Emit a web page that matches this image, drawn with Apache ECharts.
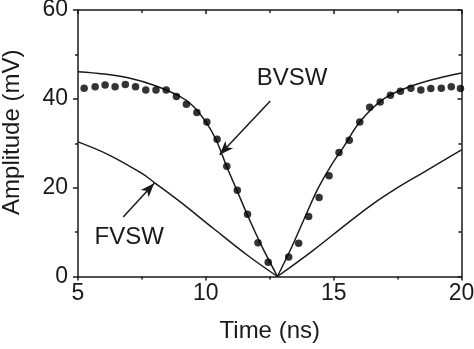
<!DOCTYPE html>
<html>
<head>
<meta charset="utf-8">
<script src="https://cdn.jsdelivr.net/npm/echarts@6/dist/echarts.min.js"></script>
<style>html,body{margin:0;padding:0;background:#fff;}#c{width:474px;height:349px;}</style>
</head>
<body>
<div id="c"></div>
<script>
// Measured dots (Time ns, Amplitude mV)
var dotTime = [5.24,5.67,6.06,6.45,6.85,7.25,7.65,8.05,8.45,8.85,9.24,9.65,10.04,10.44,10.82,11.23,11.63,12.04,12.44,13.24,13.63,14.02,14.43,14.82,15.21,15.61,16.02,16.41,16.82,17.22,17.61,18.02,18.41,18.80,19.21,19.60,19.96];
var dotAmp  = [42.4,42.7,43.1,42.7,43.2,42.7,42.0,42.0,42.0,40.5,38.8,36.9,34.8,30.9,24.8,19.4,14.0,7.6,3.2,4.4,7.5,13.5,17.8,22.7,27.9,30.7,34.8,38.1,39.3,40.8,41.7,42.4,42.0,42.3,42.4,42.7,42.3];

// BVSW curve (two branches meeting at the minimum)
var bvswLeftTime  = [5,6,7,8,9,9.5,10,10.4,10.8,11.2,11.7,12.25,12.8];
var bvswLeftAmp   = [46.1,45.6,44.7,43.0,40.5,38.4,34.8,30.8,25.0,19.6,12.9,6.1,0];
var bvswRightTime = [12.8,13.3,13.82,14.35,14.87,15.39,16.05,16.96,18.0,19.05,20];
var bvswRightAmp  = [0,5.9,12.6,19.4,24.7,29.2,35.0,40.0,42.8,44.6,45.8];

// FVSW curve
var fvswLeftTime  = [5,6.2,7.5,8.0,9.0,10.3,11.6,12.8];
var fvswLeftAmp   = [30.3,27.4,23.2,21.1,16.8,10.8,4.9,0];
var fvswRightTime = [12.8,14.2,15.5,16.5,17.5,18.5,20];
var fvswRightAmp  = [0,5.9,11.8,16.2,20.0,23.4,28.5];

var xTicks = [5,10,15,20];
var yTicks = [0,20,40,60];

function pairs(a,b){ return a.map(function(v,i){ return [v,b[i]]; }); }

var FONT = "'Liberation Sans', Arial, Helvetica, sans-serif";
var INK = '#1a1a1a';

var chart = echarts.init(document.getElementById('c'), null, {renderer:'canvas'});

function axisBase(extra){
  var o = {
    type:'value',
    axisLine:{show:true, onZero:false, lineStyle:{color:INK, width:1.5}},
    splitLine:{show:false},
    minorSplitLine:{show:false}
  };
  for (var k in extra) o[k] = extra[k];
  return o;
}

var lineStyleBase = {color:INK, width:1.5};
function curve(name, data){
  return {
    type:'line', name:name, data:data, smooth:0.35, showSymbol:false, symbol:'none',
    lineStyle:lineStyleBase, itemStyle:{color:INK}, z:3, silent:true
  };
}

var fvswL = curve('FVSW', pairs(fvswLeftTime, fvswLeftAmp));
fvswL.markLine = {
  silent:true, symbol:['none','arrow'], symbolSize:[8,14], animation:false,
  lineStyle:{color:INK, width:1.5, type:'solid'},
  label:{show:false},
  data:[
    [{coord:[12.52,39.5]},{coord:[10.54,27.4]}],
    [{coord:[6.77,13.4]},{coord:[7.98,21.0]}]
  ]
};
fvswL.markPoint = {
  silent:true, symbol:'circle', symbolSize:1, itemStyle:{color:'rgba(0,0,0,0)'},
  label:{show:true, position:'inside', formatter:'{b}', fontSize:24, color:INK, fontFamily:FONT},
  data:[
    {name:'BVSW', coord:[13.37,44.5]},
    {name:'FVSW', coord:[7.0,8.9]}
  ]
};

var option = {
  animation:false,
  backgroundColor:'#fff',
  grid:{left:78, right:12.5, top:10, bottom:72.5, containLabel:false, outerBoundsMode:'none'},
  xAxis:[
    axisBase({
      position:'bottom', min:5, max:20, interval:5,
      axisTick:{show:true, inside:false, length:4, lineStyle:{color:INK, width:1.5}},
      minorTick:{show:true, splitNumber:2, length:3, lineStyle:{color:INK, width:1.5}},
      axisLabel:{show:true, fontSize:23, color:INK, fontFamily:FONT, margin:6,
        formatter:function(v){ return xTicks.indexOf(v)>=0 ? String(v) : ''; }},
      name:'Time (ns)', nameLocation:'middle', nameGap:43,
      nameTextStyle:{fontSize:24, color:INK, fontFamily:FONT}
    }),
    axisBase({
      position:'top', min:5, max:20, interval:5,
      axisTick:{show:true, inside:true, length:4, lineStyle:{color:INK, width:1.5}},
      minorTick:{show:true, splitNumber:2, length:3, lineStyle:{color:INK, width:1.5}},
      axisLabel:{show:false}
    })
  ],
  yAxis:[
    axisBase({
      position:'left', min:0, max:60, interval:20,
      axisTick:{show:true, inside:false, length:5, lineStyle:{color:INK, width:1.5}},
      minorTick:{show:true, splitNumber:2, length:3, lineStyle:{color:INK, width:1.5}},
      axisLabel:{show:true, fontSize:23, color:INK, fontFamily:FONT, margin:10,
        formatter:function(v){ return yTicks.indexOf(v)>=0 ? String(v) : ''; }},
      name:'Amplitude (mV)', nameLocation:'middle', nameGap:54,
      nameTextStyle:{fontSize:24, color:INK, fontFamily:FONT, padding:[0,0,0,22]}
    }),
    axisBase({
      position:'right', min:0, max:60, interval:20,
      axisTick:{show:true, inside:true, length:4, lineStyle:{color:INK, width:1.5}},
      minorTick:{show:true, splitNumber:2, length:3, lineStyle:{color:INK, width:1.5}},
      axisLabel:{show:false}
    })
  ],
  series:[
    curve('BVSW', pairs(bvswLeftTime, bvswLeftAmp)),
    curve('BVSW', pairs(bvswRightTime, bvswRightAmp)),
    fvswL,
    curve('FVSW', pairs(fvswRightTime, fvswRightAmp)),
    {
      type:'scatter', name:'measured', data:pairs(dotTime, dotAmp),
      symbol:'circle', symbolSize:7.5, itemStyle:{color:'#000'}, z:4, silent:true
    }
  ]
};
chart.setOption(option);
</script>
</body>
</html>
